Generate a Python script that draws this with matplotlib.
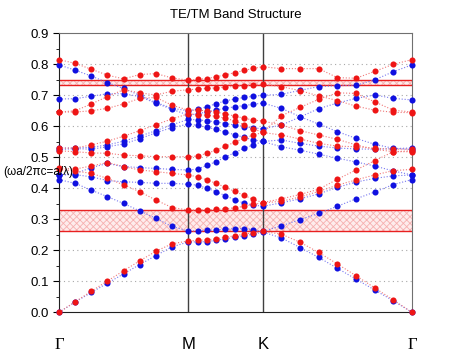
import matplotlib
matplotlib.use('Agg')
import matplotlib.pyplot as plt
import numpy as np

# k-path: Gamma-M, M-K, K-Gamma (triangular lattice, units of 2pi/a), 8 steps each
seg_lengths = [1 / np.sqrt(3), 1 / 3, 2 / 3]
n_steps = 8
point_labels = ['\u0393', 'M', 'K', '\u0393']

# TE bands (red)
te1 = [0, .034, .068, .101, .134, .166, .197, .221, .230,
       .232, .234, .237, .242, .247, .252, .257, .261,
       .252, .226, .193, .156, .118, .079, .040, 0]
te2 = [.461, .456, .448, .432, .411, .389, .362, .338, .330,
       .330, .331, .332, .334, .337, .342, .348, .353,
       .358, .372, .390, .410, .427, .443, .457, .461]
te3 = [.465, .462, .472, .483, .470, .459, .454, .448, .443,
       .437, .427, .416, .403, .390, .377, .364, .354,
       .366, .380, .397, .429, .459, .489, .518, .521]
te4 = [.521, .518, .514, .513, .507, .505, .502, .502, .502,
       .504, .513, .523, .536, .549, .561, .572, .580,
       .572, .559, .545, .536, .534, .529, .526, .526]
te5 = [.529, .530, .540, .552, .568, .586, .605, .624, .640,
       .638, .636, .632, .626, .617, .605, .592, .580,
       .634, .661, .687, .708, .706, .679, .652, .646]
te6 = [.646, .646, .650, .658, .672, .690, .693, .668, .652,
       .652, .650, .646, .640, .633, .626, .620, .617,
       .604, .586, .572, .558, .540, .526, .518, .518]
te7 = [.646, .650, .672, .696, .718, .708, .701, .713, .718,
       .720, .722, .724, .726, .729, .731, .733, .735,
       .728, .715, .698, .683, .665, .652, .645, .644]
te8 = [.815, .803, .784, .765, .753, .767, .770, .756, .749,
       .751, .754, .760, .766, .773, .780, .787, .792,
       .786, .786, .786, .757, .755, .777, .800, .815]

# TM bands (blue)
tm1 = [0, .033, .064, .094, .124, .154, .183, .211, .227,
       .227, .228, .232, .237, .242, .247, .252, .259,
       .240, .209, .177, .142, .107, .072, .037, 0]
tm2 = [.428, .416, .394, .373, .351, .327, .303, .277, .262,
       .263, .264, .266, .268, .270, .270, .267, .261,
       .279, .299, .319, .342, .366, .388, .412, .428]
tm3 = [.443, .444, .437, .425, .421, .419, .416, .416, .413,
       .410, .400, .389, .376, .363, .352, .346, .342,
       .353, .366, .382, .403, .420, .432, .440, .443]
tm4 = [.443, .447, .467, .480, .470, .467, .464, .461, .459,
       .462, .474, .486, .501, .515, .529, .540, .551,
       .534, .523, .510, .497, .485, .472, .456, .443]
tm5 = [.525, .528, .526, .534, .543, .560, .579, .596, .607,
       .603, .597, .590, .581, .573, .564, .556, .551,
       .556, .545, .536, .530, .527, .526, .528, .530]
tm6 = [.530, .530, .532, .540, .552, .568, .586, .605, .622,
       .621, .618, .614, .609, .604, .599, .595, .592,
       .604, .630, .657, .675, .690, .701, .690, .685]
tm7 = [.688, .689, .697, .705, .705, .696, .674, .655, .636,
       .640, .647, .653, .658, .663, .667, .671, .675,
       .658, .631, .607, .583, .561, .542, .529, .525]
tm8 = [.798, .781, .762, .741, .722, .700, .677, .658, .650,
       .655, .663, .673, .682, .688, .693, .697, .700,
       .703, .716, .728, .731, .732, .750, .776, .798]

# photonic band gaps (lower, upper edge)
gaps = [(0.262, 0.330), (0.734, 0.748)]

te_bands = [te1, te2, te3, te4, te5, te6, te7, te8]
tm_bands = [tm1, tm2, tm3, tm4, tm5, tm6, tm7, tm8]

# cumulative k coordinate along the path
kx = [0.0]
for seg in seg_lengths:
    start = kx[-1]
    kx.extend(start + seg * np.arange(1, n_steps + 1) / n_steps)
kx = np.array(kx)
corners = np.concatenate(([0], np.cumsum(seg_lengths)))

plt.rcParams['hatch.linewidth'] = 0.6

fig = plt.figure(figsize=(4.74, 3.53), dpi=100)
ax = fig.add_axes([0.1245, 0.1153, 0.7445, 0.7904])

for lo, hi in gaps:
    ax.axhspan(lo, hi, facecolor='#feecec', edgecolor='#f6b0b0', hatch='xxxxx',
               linewidth=0, zorder=1)
    ax.axhline(lo, color='#e82020', lw=1.0, zorder=2)
    ax.axhline(hi, color='#e82020', lw=1.0, zorder=2)

for yv in np.arange(0.1, 0.85, 0.1):
    ax.axhline(yv, color='#a8a8a8', lw=0.8, linestyle=(0, (1, 3)), zorder=0.5)

for xc in corners[1:-1]:
    ax.axvline(xc, color='#404040', lw=1.0, zorder=2)

for band in tm_bands:
    ax.plot(kx, band, color='#7878f0', lw=0.8, linestyle=':', zorder=3)
    ax.plot(kx, band, color='#1010e0', linestyle='', marker='o', markersize=4.4,
            markeredgewidth=0, zorder=4, clip_on=False)
for band in te_bands:
    ax.plot(kx, band, color='#f07878', lw=0.8, linestyle=':', zorder=5)
    ax.plot(kx, band, color='#ee1515', linestyle='', marker='o', markersize=4.4,
            markeredgewidth=0, zorder=6, clip_on=False)

ax.set_xlim(corners[0], corners[-1])
ax.set_ylim(0, 0.9)
ax.set_yticks(np.arange(0, 0.91, 0.1))
ax.set_yticklabels(['%.1f' % v for v in np.arange(0, 0.91, 0.1)],
                   fontsize=9.5, family='Liberation Sans')
ax.set_yticks(np.arange(0, 0.91, 0.05), minor=True)
ax.tick_params(axis='y', which='major', length=4, width=0.8, direction='out')
ax.tick_params(axis='y', which='minor', length=2, width=0.6, direction='out')

ax.set_xticks(corners)
ax.set_xticklabels(point_labels, fontsize=12, family='Liberation Sans')
ax.tick_params(axis='x', length=0, pad=18)
for lab in ax.get_xticklabels():
    if lab.get_text() == '\u0393':
        lab.set_family('Liberation Serif')

for side in ['left', 'bottom']:
    ax.spines[side].set_color('#202020')
for side in ['top', 'right']:
    ax.spines[side].set_color('#707070')

ax.set_title('TE/TM Band Structure', fontsize=9.5, family='Liberation Sans', pad=11)
fig.text(3 / 474, 1 - 172 / 353, '(\u03c9a/2\u03c0c=a/\u03bb)', fontsize=8.5,
         family='Liberation Sans', ha='left', va='center', zorder=10)

fig.savefig('out.png', dpi=100)
